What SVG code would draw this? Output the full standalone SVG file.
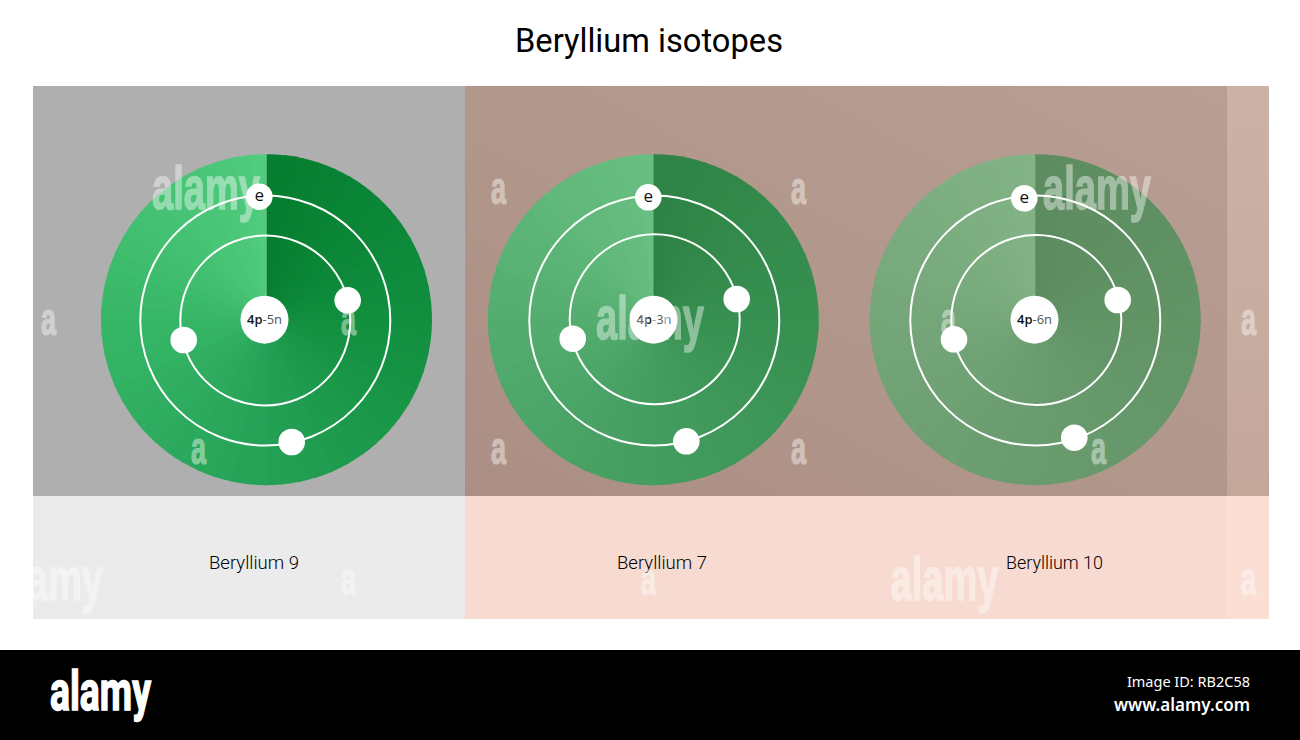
<svg xmlns="http://www.w3.org/2000/svg" width="1300" height="740" viewBox="0 0 1300 740">
  <style>
    text { font-family: "Roboto", "Liberation Sans", sans-serif; }
    .title { font-size: 33px; fill: #000; font-weight: 400; }
    .label { font-size: 17.5px; fill: #000; font-weight: 300; }
    .nuc { font-family: "Open Sans", "Liberation Sans", sans-serif; font-size: 13px; fill: #111; font-weight: 600; }
    .nuc .n { fill: #555; font-weight: 400; }
    .sym { font-family: "Open Sans", "Liberation Sans", sans-serif; font-size: 17px; fill: #111; text-anchor: middle; }
    .orbit { fill: none; stroke: #fff; stroke-width: 2; }
    .dot { fill: #fff; }
    .mark { font-family: "Liberation Sans", sans-serif; font-weight: 700; fill: #fff; stroke: #fff; opacity: 0.42; }
    .big { font-size: 62px; stroke-width: 1.6; }
    .small { font-size: 47px; stroke-width: 1.2; }
    .foot { font-family: "Noto Sans", "Open Sans", sans-serif; fill: #fff; text-anchor: end; }
  </style>
  <defs>
    <linearGradient id="brown" x1="0" y1="1" x2="1" y2="0">
      <stop offset="0" stop-color="#ac8f84"/>
      <stop offset="1" stop-color="#b89f93"/>
    </linearGradient>
    <linearGradient id="brownEnd" x1="0" y1="0" x2="0" y2="1">
      <stop offset="0" stop-color="#cbb2a7"/>
      <stop offset="1" stop-color="#c4a79b"/>
    </linearGradient>
    <linearGradient id="blush" x1="0" y1="0" x2="1" y2="0">
      <stop offset="0" stop-color="#f7dbd1"/>
      <stop offset="1" stop-color="#f7dbd2"/>
    </linearGradient>
    <path id="w" d="M0 0L0-165.500A165.500 165.500 0 0 1 20.170-164.270Z"/>
    <path id="wLast" d="M0 0L0-165.500A165.500 165.500 0 0 1 17.300-164.590Z"/>
    <!-- Shaded disc: colour sweeps round the centre, six degrees a step -->
    <g id="disc">
      <use href="#w" fill="#057e30"/>
      <use href="#w" transform="rotate(6)" fill="#067f31"/>
      <use href="#w" transform="rotate(12)" fill="#078032"/>
      <use href="#w" transform="rotate(18)" fill="#088133"/>
      <use href="#w" transform="rotate(24)" fill="#098234"/>
      <use href="#w" transform="rotate(30)" fill="#098435"/>
      <use href="#w" transform="rotate(36)" fill="#0a8536"/>
      <use href="#w" transform="rotate(42)" fill="#0b8637"/>
      <use href="#w" transform="rotate(48)" fill="#0c8738"/>
      <use href="#w" transform="rotate(54)" fill="#0d8839"/>
      <use href="#w" transform="rotate(60)" fill="#0d8a3a"/>
      <use href="#w" transform="rotate(66)" fill="#0e8b3b"/>
      <use href="#w" transform="rotate(72)" fill="#0f8c3c"/>
      <use href="#w" transform="rotate(78)" fill="#108d3d"/>
      <use href="#w" transform="rotate(84)" fill="#118e3e"/>
      <use href="#w" transform="rotate(90)" fill="#12903f"/>
      <use href="#w" transform="rotate(96)" fill="#139140"/>
      <use href="#w" transform="rotate(102)" fill="#149242"/>
      <use href="#w" transform="rotate(108)" fill="#159343"/>
      <use href="#w" transform="rotate(114)" fill="#179445"/>
      <use href="#w" transform="rotate(120)" fill="#189646"/>
      <use href="#w" transform="rotate(126)" fill="#199748"/>
      <use href="#w" transform="rotate(132)" fill="#1b9849"/>
      <use href="#w" transform="rotate(138)" fill="#1c994b"/>
      <use href="#w" transform="rotate(144)" fill="#1d9a4d"/>
      <use href="#w" transform="rotate(150)" fill="#1e9c4e"/>
      <use href="#w" transform="rotate(156)" fill="#209d50"/>
      <use href="#w" transform="rotate(162)" fill="#219e51"/>
      <use href="#w" transform="rotate(168)" fill="#229f53"/>
      <use href="#w" transform="rotate(174)" fill="#23a054"/>
      <use href="#w" transform="rotate(180)" fill="#25a256"/>
      <use href="#w" transform="rotate(186)" fill="#26a357"/>
      <use href="#w" transform="rotate(192)" fill="#27a558"/>
      <use href="#w" transform="rotate(198)" fill="#29a659"/>
      <use href="#w" transform="rotate(204)" fill="#2aa75b"/>
      <use href="#w" transform="rotate(210)" fill="#2ba95c"/>
      <use href="#w" transform="rotate(216)" fill="#2daa5d"/>
      <use href="#w" transform="rotate(222)" fill="#2eac5f"/>
      <use href="#w" transform="rotate(228)" fill="#2fad60"/>
      <use href="#w" transform="rotate(234)" fill="#31ae61"/>
      <use href="#w" transform="rotate(240)" fill="#32b062"/>
      <use href="#w" transform="rotate(246)" fill="#33b164"/>
      <use href="#w" transform="rotate(252)" fill="#35b365"/>
      <use href="#w" transform="rotate(258)" fill="#36b466"/>
      <use href="#w" transform="rotate(264)" fill="#37b567"/>
      <use href="#w" transform="rotate(270)" fill="#39b769"/>
      <use href="#w" transform="rotate(276)" fill="#3bb86a"/>
      <use href="#w" transform="rotate(282)" fill="#3cba6c"/>
      <use href="#w" transform="rotate(288)" fill="#3ebc6e"/>
      <use href="#w" transform="rotate(294)" fill="#40bd6f"/>
      <use href="#w" transform="rotate(300)" fill="#41be70"/>
      <use href="#w" transform="rotate(306)" fill="#43c072"/>
      <use href="#w" transform="rotate(312)" fill="#45c173"/>
      <use href="#w" transform="rotate(318)" fill="#47c375"/>
      <use href="#w" transform="rotate(324)" fill="#49c577"/>
      <use href="#w" transform="rotate(330)" fill="#4ac577"/>
      <use href="#w" transform="rotate(336)" fill="#4bc779"/>
      <use href="#w" transform="rotate(342)" fill="#4dc87a"/>
      <use href="#w" transform="rotate(348)" fill="#4fc97c"/>
      <use href="#wLast" transform="rotate(354)" fill="#51cb7d"/>
    </g>
  </defs>

  <rect width="1300" height="740" fill="#fff"/>
  <text class="title" x="515" y="52" textLength="268" lengthAdjust="spacingAndGlyphs">Beryllium isotopes</text>

  <g id="panels">
    <rect x="33" y="86" width="432" height="410" fill="#afafaf"/>
    <rect x="465" y="86" width="762" height="410" fill="url(#brown)"/>
    <rect x="1227" y="86" width="42" height="410" fill="url(#brownEnd)"/>
    <rect x="33" y="496" width="432" height="123" fill="#ebebeb"/>
    <rect x="465" y="496" width="762" height="123" fill="url(#blush)"/>
    <rect x="1227" y="496" width="42" height="123" fill="#fbdfd5"/>
  </g>

  <g id="discs">
    <use href="#disc" transform="translate(266.500 319.700)"/>
    <use href="#disc" transform="translate(653.300 319.700)" opacity="0.76"/>
    <use href="#disc" transform="translate(1035.200 319.700)" opacity="0.5"/>
  </g>

  <!-- Electron shells -->
  <g id="orbits">
    <circle class="orbit" cx="265.300" cy="320.500" r="125"/>
    <circle class="orbit" cx="265.300" cy="320.500" r="85"/>
    <circle class="orbit" cx="654.300" cy="320.500" r="125"/>
    <circle class="orbit" cx="654.700" cy="319.200" r="85"/>
    <circle class="orbit" cx="1035.300" cy="320.500" r="125"/>
    <circle class="orbit" cx="1036.300" cy="320" r="85"/>
  </g>

  <g id="beryllium-9">
    <circle class="dot" cx="264.500" cy="319.700" r="24"/>
    <text class="nuc" x="247" y="324" textLength="35" lengthAdjust="spacingAndGlyphs">4p<tspan class="n">-5n</tspan></text>
    <circle class="dot" cx="259.300" cy="196.700" r="13.300"/>
    <text class="sym" x="259.300" y="201">e</text>
    <circle class="dot" cx="347.700" cy="300.300" r="13.300"/>
    <circle class="dot" cx="183.700" cy="340" r="13.300"/>
    <circle class="dot" cx="291.700" cy="442" r="13.300"/>
    <text class="label" x="209" y="569" textLength="90" lengthAdjust="spacingAndGlyphs">Beryllium 9</text>
  </g>

  <g id="beryllium-7">
    <circle class="dot" cx="653.500" cy="319.700" r="24"/>
    <text class="nuc" x="636.500" y="324" textLength="35" lengthAdjust="spacingAndGlyphs">4p<tspan class="n">-3n</tspan></text>
    <circle class="dot" cx="648.300" cy="197.300" r="13.300"/>
    <text class="sym" x="648.300" y="202">e</text>
    <circle class="dot" cx="736.700" cy="299" r="13.300"/>
    <circle class="dot" cx="572.700" cy="338.700" r="13.300"/>
    <circle class="dot" cx="686.300" cy="441.300" r="13.300"/>
    <text class="label" x="617" y="569" textLength="90" lengthAdjust="spacingAndGlyphs">Beryllium 7</text>
  </g>

  <g id="beryllium-10">
    <circle class="dot" cx="1034.500" cy="319.700" r="24"/>
    <text class="nuc" x="1017" y="324" textLength="35" lengthAdjust="spacingAndGlyphs">4p<tspan class="n">-6n</tspan></text>
    <circle class="dot" cx="1024.300" cy="198.300" r="13.300"/>
    <text class="sym" x="1024.300" y="203">e</text>
    <circle class="dot" cx="1117.700" cy="300" r="13.300"/>
    <circle class="dot" cx="954" cy="339.300" r="13.300"/>
    <circle class="dot" cx="1074.300" cy="437.700" r="13.300"/>
    <text class="label" x="1006" y="569" textLength="97" lengthAdjust="spacingAndGlyphs">Beryllium 10</text>
  </g>

  <g id="overprint">
    <text class="mark big" x="152" y="209" textLength="108" lengthAdjust="spacingAndGlyphs">alamy</text>
    <text class="mark big" x="596" y="339" textLength="108" lengthAdjust="spacingAndGlyphs">alamy</text>
    <text class="mark big" x="1043" y="209" textLength="108" lengthAdjust="spacingAndGlyphs">alamy</text>
    <text class="mark big" x="-5" y="600" textLength="108" lengthAdjust="spacingAndGlyphs">alamy</text>
    <text class="mark big" x="890.500" y="600" textLength="108" lengthAdjust="spacingAndGlyphs">alamy</text>
    <text class="mark small" x="41" y="335" textLength="15" lengthAdjust="spacingAndGlyphs">a</text>
    <text class="mark small" x="341" y="335" textLength="15" lengthAdjust="spacingAndGlyphs">a</text>
    <text class="mark small" x="191" y="464" textLength="15" lengthAdjust="spacingAndGlyphs">a</text>
    <text class="mark small" x="491" y="204" textLength="15" lengthAdjust="spacingAndGlyphs">a</text>
    <text class="mark small" x="791" y="204" textLength="15" lengthAdjust="spacingAndGlyphs">a</text>
    <text class="mark small" x="491" y="464" textLength="15" lengthAdjust="spacingAndGlyphs">a</text>
    <text class="mark small" x="791" y="464" textLength="15" lengthAdjust="spacingAndGlyphs">a</text>
    <text class="mark small" x="941" y="335" textLength="15" lengthAdjust="spacingAndGlyphs">a</text>
    <text class="mark small" x="1091" y="464" textLength="15" lengthAdjust="spacingAndGlyphs">a</text>
    <text class="mark small" x="1241" y="335" textLength="15" lengthAdjust="spacingAndGlyphs">a</text>
    <text class="mark small" x="341" y="595" textLength="15" lengthAdjust="spacingAndGlyphs">a</text>
    <text class="mark small" x="641" y="595" textLength="15" lengthAdjust="spacingAndGlyphs">a</text>
    <text class="mark small" x="1241" y="595" textLength="15" lengthAdjust="spacingAndGlyphs">a</text>
  </g>

  <g id="footer">
    <rect x="0" y="650" width="1300" height="90" fill="#000"/>
    <text x="50" y="710" font-family="Liberation Sans, sans-serif" font-weight="700" font-size="55" fill="#fff" stroke="#fff" stroke-width="1.5" textLength="101" lengthAdjust="spacingAndGlyphs">alamy</text>
    <text class="foot" x="1250" y="687" font-size="14.500">Image ID: RB2C58</text>
    <text class="foot" x="1250" y="711" font-size="17" font-weight="600">www.alamy.com</text>
  </g>
</svg>
